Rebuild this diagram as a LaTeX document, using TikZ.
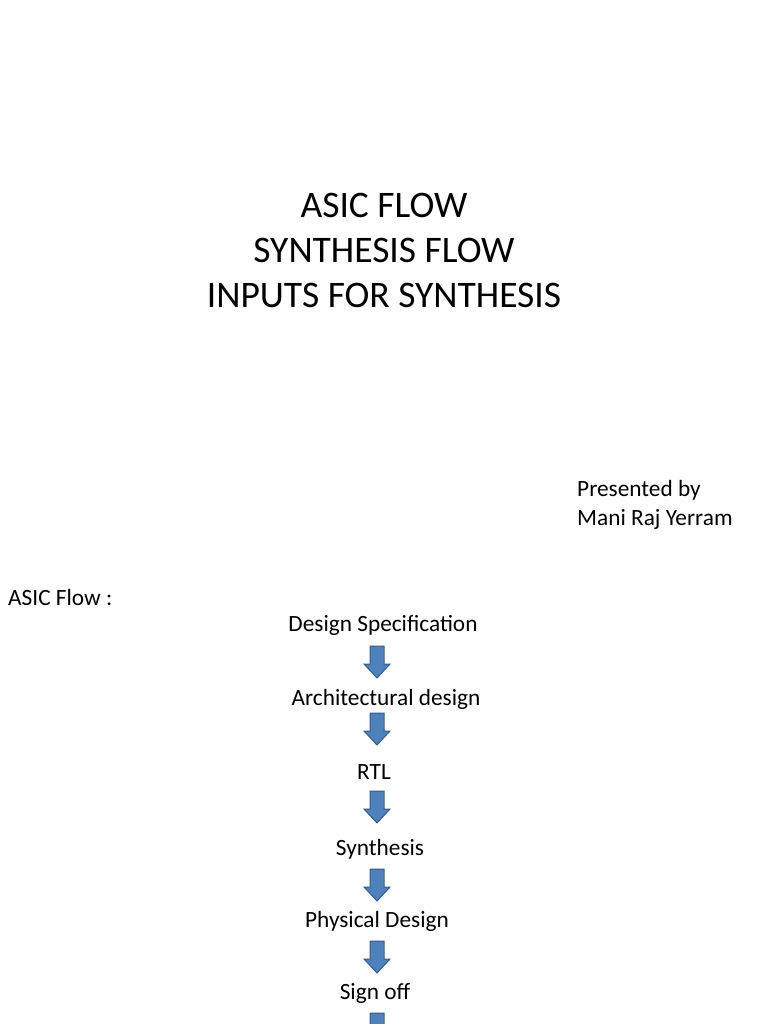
\documentclass[tikz,border=0pt]{standalone}
\usepackage{fontspec}
\setmainfont{Carlito}
\definecolor{af}{HTML}{4F81BD}
\definecolor{ad}{HTML}{385D8A}
\begin{document}
\begin{tikzpicture}[x=1pt,y=-1pt,
 title/.style={font=\fontsize{37.5}{45}\selectfont, align=center, anchor=center, inner sep=0},
 txt/.style={font=\fontsize{23.3}{28.5}\selectfont, inner sep=0},
 darr/.pic={\draw[ad, fill=af, line width=1pt] (-7,0) -- (7,0) -- (7,18) -- (13,18) -- (0,32) -- (-13,18) -- (-7,18) -- cycle;}]
\useasboundingbox[fill=white] (0,0) rectangle (768,1024);
\node[title] (t) at (384,250) {ASIC FLOW\\SYNTHESIS FLOW\\INPUTS FOR SYNTHESIS};
\node[txt, anchor=west, align=left] (p) at (577,505) {Presented by\\Mani Raj Yerram};
\node[txt, anchor=west] (h) at (8,597) {ASIC Flow :};
\node[txt] (s1) at (383,625) {Design Specification};
\node[txt] (s2) at (386,699) {Architectural design};
\node[txt] (s3) at (374,772) {RTL};
\node[txt] (s4) at (380,849) {Synthesis};
\node[txt] (s5) at (377,921) {Physical Design};
\node[txt] (s6) at (375,993) {Sign off};
\foreach \y in {646,713,791,869,941,1013} \pic at (377,\y) {darr};
\end{tikzpicture}
\end{document}
